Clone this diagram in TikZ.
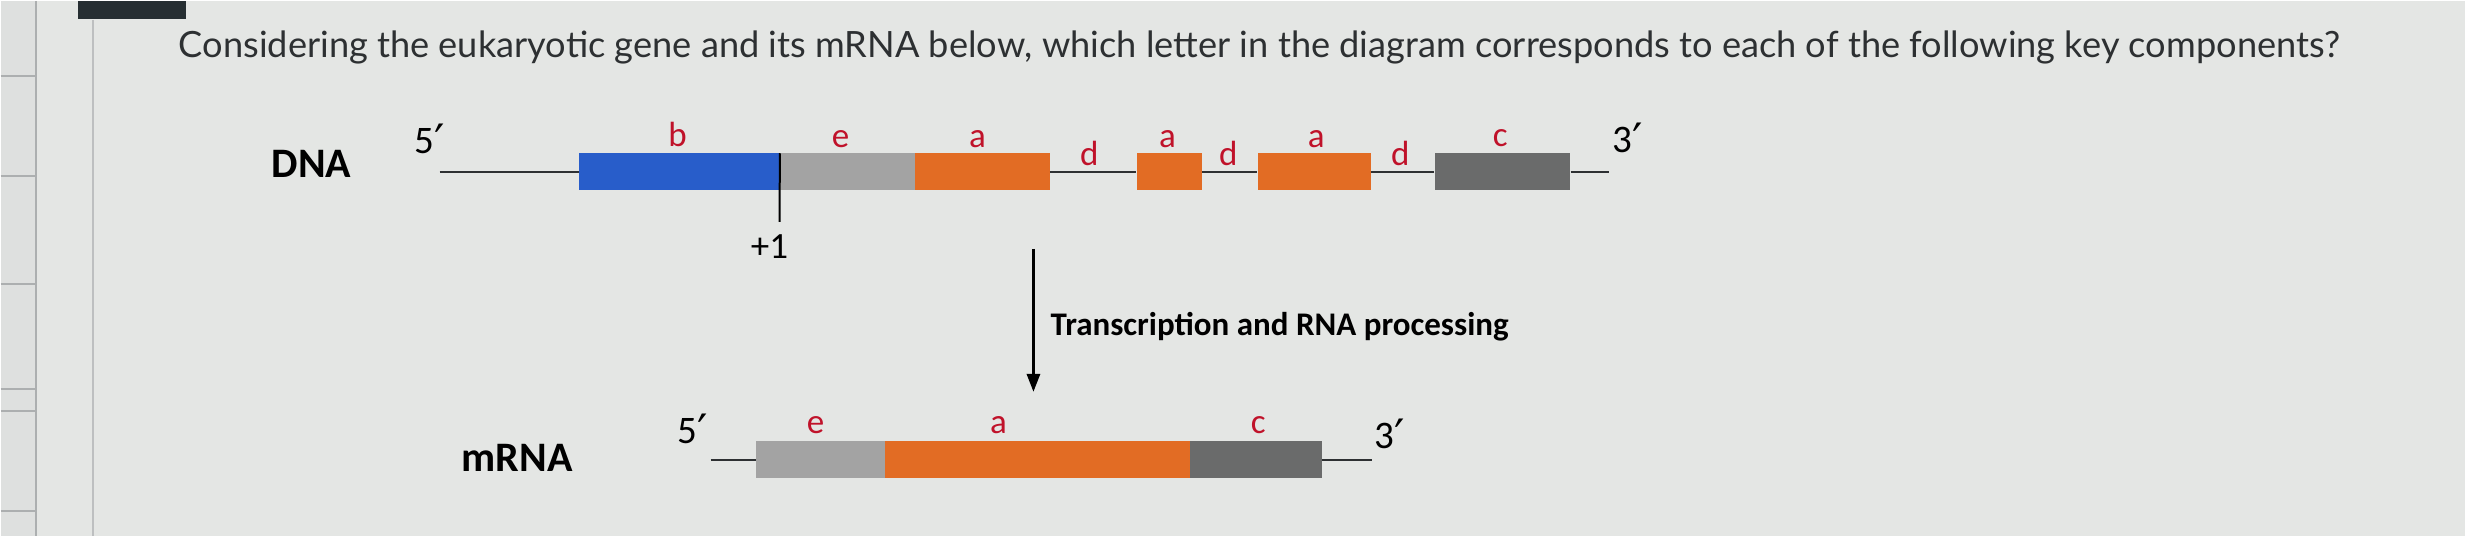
\documentclass[tikz,border=0pt]{standalone}
\usepackage{fontspec}
\setmainfont{Carlito}
\newfontfamily\latofont{Lato}
\newfontfamily\primefont{DejaVu Sans}
\usepackage{xcolor}
\definecolor{slidebg}{RGB}{228,230,228}
\definecolor{stripbg}{RGB}{222,224,223}
\definecolor{framegrey}{RGB}{172,175,176}
\definecolor{tabdark}{RGB}{38,46,50}
\definecolor{exonblue}{RGB}{40,93,202}
\definecolor{exonorange}{RGB}{226,108,36}
\definecolor{lightgrey}{RGB}{163,163,163}
\definecolor{darkgrey}{RGB}{106,107,107}
\definecolor{labelred}{RGB}{192,18,42}
\definecolor{inkgrey}{RGB}{45,48,50}
\usetikzlibrary{arrows.meta}
\newcommand{\barheight}{37pt}
\newcommand{\prm}{{\primefont\fontsize{46}{52}\selectfont\raisebox{-4pt}{′}}}
\tikzset{
    common/.style={anchor=west, inner sep=0pt, minimum height=\barheight},
    promoter/.style={common, fill=exonblue},
    utrfive/.style={common, fill=lightgrey},
    exon/.style={common, fill=exonorange},
    utrthree/.style={common, fill=darkgrey},
    strand/.style={draw=inkgrey, line width=2pt},
    letter/.style={anchor=base, inner sep=0pt, text=labelred, font=\fontsize{35}{42}\selectfont},
    endmark/.style={anchor=base west, inner sep=0pt, text=black, font=\fontsize{39}{46}\selectfont},
    molecule/.style={anchor=base west, inner sep=0pt, text=black, font=\bfseries\fontsize{42}{50}\selectfont},
    processarrow/.style={draw=black, line width=3pt, -{Triangle[length=18pt, width=13pt]}}
}

\begin{document}
\begin{tikzpicture}[x=1pt, y=-1pt]
    % slide and photo background
    \fill[slidebg] (0,0) rectangle (2465,535);
    \fill[stripbg] (0,0) rectangle (35,535);
    \draw[framegrey, line width=2pt] (35,0) -- (35,535);
    \draw[framegrey!80, line width=2pt] (92,19) -- (92,535);
    \foreach \y in {75,175,283,388,410,510}
        \draw[framegrey, line width=1.5pt] (0,\y) -- (35,\y);
    \fill[tabdark] (77,0) rectangle (185,18);
    \useasboundingbox (0,0) rectangle (2465,535);

    \node[anchor=base west, inner sep=0pt, text=inkgrey, font=\latofont\fontsize{36.2}{43}\selectfont] (question) at (178,57)
        {Considering the eukaryotic gene and its mRNA below, which letter in the diagram corresponds to each of the following key components?};

    % DNA
    \node[molecule] (dna) at (271,177) {DNA};
    \node[endmark] (dnafive) at (414,153) {5\prm};
    \coordinate (dnastart) at (439,171);
    \path (578,171)
        node[promoter, minimum width=201pt] (blue) {}
        ++(201,0) node[utrfive, minimum width=135pt] (dnautrfive) {}
        ++(135,0) node[exon, minimum width=135pt] (exonone) {}
        ++(222,0) node[exon, minimum width=65pt] (exontwo) {}
        ++(121,0) node[exon, minimum width=113pt] (exonthree) {}
        ++(177,0) node[utrthree, minimum width=136pt] (dnautrthree) {};
    \coordinate (dnaend) at (1609,171);
    \node[endmark] (dnathree) at (1612,152) {3\prm};
    \draw[strand] (dnastart) -- (blue.west);
    \draw[strand] (exonone.east) -- (exontwo.west);
    \draw[strand] (exontwo.east) -- (exonthree.west);
    \draw[strand] (exonthree.east) -- (dnautrthree.west);
    \draw[strand] (dnautrthree.east) -- (dnaend);

    \node[letter] (lb) at (677,146) {b};
    \node[letter] (le) at (840,147) {e};
    \node[letter] (la1) at (977,147) {a};
    \node[letter] (ld1) at (1089,165) {d};
    \node[letter] (la2) at (1167,147) {a};
    \node[letter] (ld2) at (1228,165) {d};
    \node[letter] (la3) at (1316,147) {a};
    \node[letter] (ld3) at (1400,165) {d};
    \node[letter] (lc) at (1500,146) {c};

    % transcription start site
    \coordinate (tssfoot) at (779,221);
    \draw[black, line width=2pt] (blue.north east) -- (tssfoot);
    \node[anchor=base, inner sep=0pt, text=black, font=\fontsize{37}{44}\selectfont] (plusone) at (769,258) {+1};

    % processing arrow
    \coordinate (arrowtop) at (1033,248);
    \coordinate (arrowtip) at (1033,391);
    \draw[processarrow] (arrowtop) -- (arrowtip);
    \node[anchor=base west, inner sep=0pt, font=\bfseries\fontsize{33}{40}\selectfont] (process) at (1050,335)
        {Transcription and RNA processing};

    % mRNA
    \node[molecule] (mrna) at (461,471) {mRNA};
    \node[endmark] (rnafive) at (677,443) {5\prm};
    \coordinate (rnastart) at (710,459);
    \path (755,459)
        node[utrfive, minimum width=129pt] (rnautrfive) {}
        ++(129,0) node[exon, minimum width=305pt] (rnaexon) {}
        ++(305,0) node[utrthree, minimum width=132pt] (rnautrthree) {};
    \coordinate (rnaend) at (1372,459);
    \node[endmark] (rnathree) at (1374,448) {3\prm};
    \draw[strand] (rnastart) -- (rnautrfive.west);
    \draw[strand] (rnautrthree.east) -- (rnaend);

    \node[letter] (me) at (815,433) {e};
    \node[letter] (ma) at (998,433) {a};
    \node[letter] (mc) at (1258,433) {c};
\end{tikzpicture}
\end{document}
